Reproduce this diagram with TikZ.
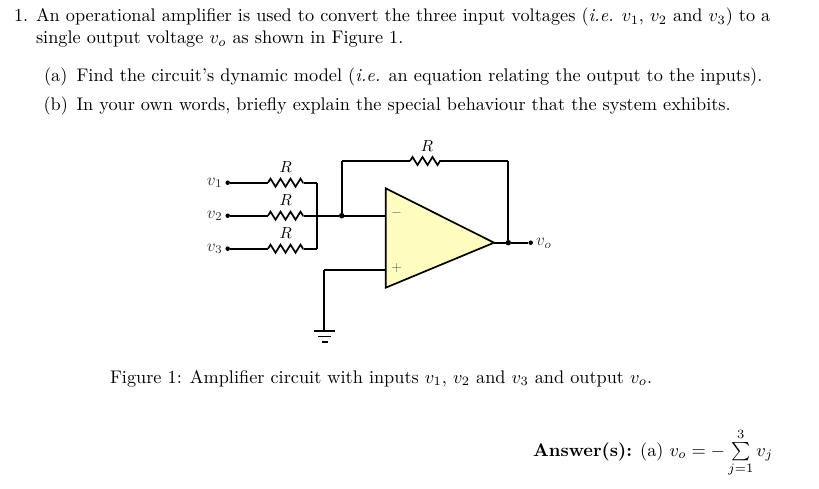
\documentclass[tikz,border=0pt]{standalone}
\usepackage{tikz}
\usetikzlibrary{positioning}
\usetikzlibrary{decorations.pathmorphing}
\tikzset{
  line/.style={inner sep=0pt, anchor=base west, font=\fontsize{10}{12}\selectfont, scale=1.825},
  terminal/.style={circle, fill=black, inner sep=0pt, outer sep=0pt, minimum size=4.5pt},
  junction/.style={circle, fill=black, inner sep=0pt, outer sep=0pt, minimum size=5.5pt},
  resistor/.style={decorate, decoration={zigzag, segment length=10pt, amplitude=4pt}},
  rlabel/.style={above=8.5pt, inner sep=0pt, scale=1.6},
  vlabel/.style={inner sep=0pt, scale=1.7, text=black!80},
  sign/.style={inner sep=0pt, scale=1.35, text=black!65}
}
\begin{document}
\begin{tikzpicture}[x=1pt,y=-1pt,line width=1.7pt,node distance=33pt, on grid]
  \useasboundingbox (0,0) rectangle (819,489);
  % question text
  \node[line] (num)  at (12.5,22) {1.};
  \node[line] (l1)   at (34.5,22) {An operational amplifier is used to convert the three input voltages (\emph{i.e.} $v_1$, $v_2$ and $v_3$) to a};
  \node[line] (l2)   at (34.5,44) {single output voltage $v_o$ as shown in Figure 1.};
  \node[line] (pa)   at (42.5,82) {(a)};
  \node[line] (la)   at (75,82) {Find the circuit's dynamic model (\emph{i.e.} an equation relating the output to the inputs).};
  \node[line] (pb)   at (42,111) {(b)};
  \node[line] (lb)   at (75,111) {In your own words, briefly explain the special behaviour that the system exhibits.};
  \node[line] (cap)  at (108.5,383) {Figure 1: Amplifier circuit with inputs $v_1$, $v_2$ and $v_3$ and output $v_o$.};
  \node[line] (ans)  at (531.5,456) {\textbf{Answer(s):} (a) $v_o=-\sum\limits_{j=1}^{3}v_j$};

  % op amp
  \coordinate (T) at (385.7,188.3);
  \coordinate (S) at (385.7,287.7);
  \coordinate (E) at (494,242.7);
  \filldraw[fill=yellow!25!white, line join=miter] (T) -- (E) -- (S) -- cycle;
  \node[sign] (minus) at (396.7,213) {$-$};
  \node[sign] (plus)  at (396.7,268.5) {$+$};

  % inputs
  \node[terminal] (V1) at (227.7,182.7) {};
  \node[terminal] (V2) [below=of V1] {};
  \node[terminal] (V3) [below=of V2] {};
  \node[vlabel, left=13pt of V1] (L1) {$v_1$};
  \node[vlabel, left=13pt of V2] (L2) {$v_2$};
  \node[vlabel, left=13pt of V3] (L3) {$v_3$};
  \coordinate (A1) at (268,182.7);
  \coordinate (B1) at (303.5,182.7);
  \coordinate (C1) at (316.7,182.7);
  \coordinate[below=of A1] (A2);
  \coordinate[below=of B1] (B2);
  \coordinate[below=of A2] (A3);
  \coordinate[below=of B2] (B3);
  \coordinate[below=66pt of C1] (C3);
  \coordinate (IN) at (385.7,215.7);
  \node[junction] (J) at (341.7,215.7) {};

  % feedback
  \coordinate (F0) at (341.7,161);
  \coordinate (F1) at (410,161);
  \coordinate (F2) at (444,161);
  \coordinate (F3) at (508.3,161);
  \node[junction] (O) at (508.3,242.7) {};
  \node[terminal] (VO) at (530.7,242.7) {};
  \node[vlabel] (LO) at (544,243.5) {$v_o$};

  % ground
  \coordinate (PL) at (385.7,269.7);
  \coordinate (G0) at (324.3,269.7);
  \coordinate (G) at (324.3,331);
  \coordinate (G1) at (314,331);
  \coordinate (G2) at (335,331);
  \coordinate (G3) at (318,336.5);
  \coordinate (G4) at (331,336.5);
  \coordinate (G5) at (321.5,342);
  \coordinate (G6) at (327.5,342);

  \path (V1) edge (A1)
        (A1) edge [resistor] node [rlabel] {$R$} (B1)
        (B1) edge (C1)
        (V2) edge (A2)
        (A2) edge [resistor] node [rlabel] {$R$} (B2)
        (B2) edge (J)
        (J)  edge (IN)
        (V3) edge (A3)
        (A3) edge [resistor] node [rlabel] {$R$} (B3)
        (B3) edge (C3)
        (C1) edge (C3)
        (J)  edge (F0)
        (F0) edge (F1)
        (F1) edge [resistor] node [rlabel] {$R$} (F2)
        (F2) edge (F3)
        (F3) edge (O)
        (E)  edge (O)
        (O)  edge (VO)
        (PL) edge (G0)
        (G0) edge (G)
        (G1) edge (G2)
        (G3) edge (G4)
        (G5) edge (G6);
\end{tikzpicture}
\end{document}
